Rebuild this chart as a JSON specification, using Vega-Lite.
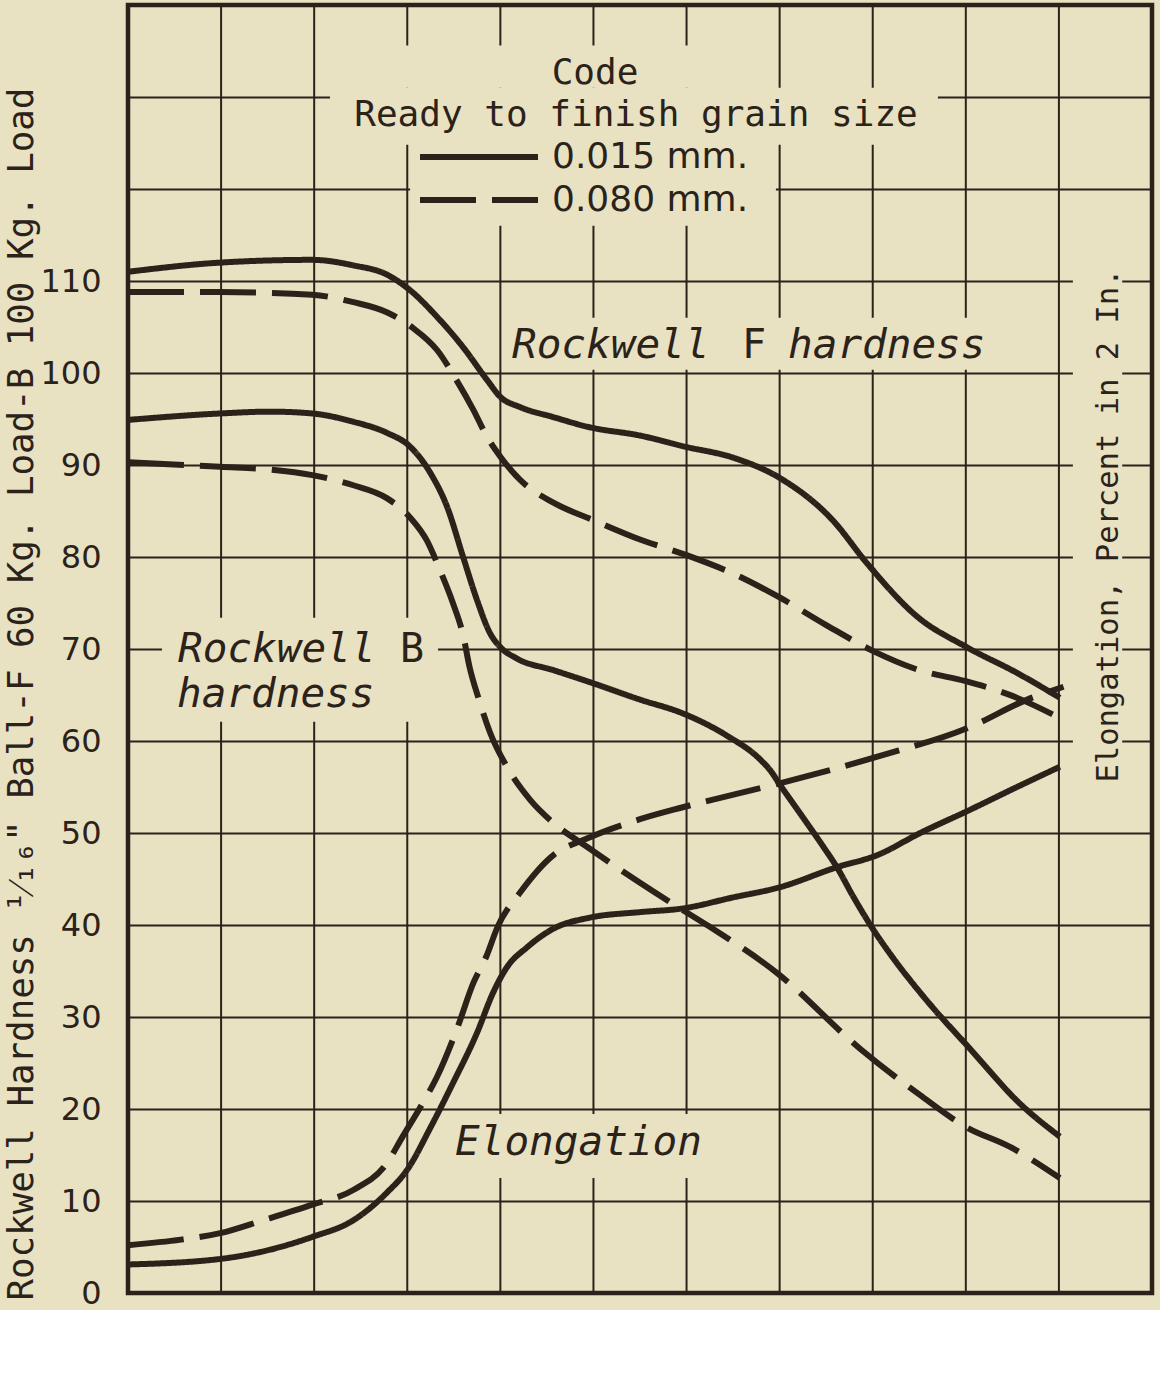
{
  "$schema": "https://vega.github.io/schema/vega-lite/v6.json",
  "width": 1024,
  "height": 1288,
  "autosize": {"type": "none"},
  "padding": {"left": 128, "top": 5, "right": 8, "bottom": 17},
  "background": "#e8e1c2",
  "config": {
    "font": "DejaVu Sans",
    "view": {"stroke": "#2b221a", "strokeWidth": 4.5},
    "axis": {
      "gridColor": "#2b221a",
      "gridWidth": 2,
      "gridOpacity": 1,
      "domain": false,
      "ticks": false,
      "labelColor": "#2b221a",
      "titleColor": "#2b221a",
      "titleFontWeight": "normal",
      "titleFont": "DejaVu Sans Mono",
      "labelFont": "DejaVu Sans"
    },
    "legend": {
      "orient": "none",
      "legendX": 333,
      "legendY": 134,
      "direction": "vertical",
      "padding": 0,
      "symbolType": "M-5,0H5",
      "symbolSize": 557,
      "symbolStrokeWidth": 6,
      "symbolStrokeColor": "#2b221a",
      "symbolOffset": 0,
      "labelFont": "DejaVu Sans",
      "labelFontSize": 36,
      "labelColor": "#2b221a",
      "labelOffset": 55,
      "labelLimit": 0,
      "rowPadding": 7
    }
  },
  "datasets": {
    "columns": [
      {"x": 1}, {"x": 2}, {"x": 3}, {"x": 4}, {"x": 5},
      {"x": 6}, {"x": 7}, {"x": 8}, {"x": 9}, {"x": 10}
    ],
    "curves": [
      {"property": "Rockwell F", "grain": "0.015 mm.", "x": 0, "value": 111.0},
      {"property": "Rockwell F", "grain": "0.015 mm.", "x": 0.99, "value": 112.0},
      {"property": "Rockwell F", "grain": "0.015 mm.", "x": 1.98, "value": 112.3},
      {"property": "Rockwell F", "grain": "0.015 mm.", "x": 2.42, "value": 111.7},
      {"property": "Rockwell F", "grain": "0.015 mm.", "x": 2.78, "value": 110.7},
      {"property": "Rockwell F", "grain": "0.015 mm.", "x": 3.03, "value": 109.0},
      {"property": "Rockwell F", "grain": "0.015 mm.", "x": 3.32, "value": 106.1},
      {"property": "Rockwell F", "grain": "0.015 mm.", "x": 3.6, "value": 102.8},
      {"property": "Rockwell F", "grain": "0.015 mm.", "x": 3.86, "value": 99.2},
      {"property": "Rockwell F", "grain": "0.015 mm.", "x": 4.0, "value": 97.4},
      {"property": "Rockwell F", "grain": "0.015 mm.", "x": 4.21, "value": 96.3},
      {"property": "Rockwell F", "grain": "0.015 mm.", "x": 4.57, "value": 95.2},
      {"property": "Rockwell F", "grain": "0.015 mm.", "x": 4.96, "value": 94.1},
      {"property": "Rockwell F", "grain": "0.015 mm.", "x": 5.5, "value": 93.2},
      {"property": "Rockwell F", "grain": "0.015 mm.", "x": 5.98, "value": 92.0},
      {"property": "Rockwell F", "grain": "0.015 mm.", "x": 6.5, "value": 90.8},
      {"property": "Rockwell F", "grain": "0.015 mm.", "x": 7.0, "value": 88.6},
      {"property": "Rockwell F", "grain": "0.015 mm.", "x": 7.57, "value": 84.0},
      {"property": "Rockwell F", "grain": "0.015 mm.", "x": 7.94, "value": 79.3},
      {"property": "Rockwell F", "grain": "0.015 mm.", "x": 8.48, "value": 73.5},
      {"property": "Rockwell F", "grain": "0.015 mm.", "x": 9.01, "value": 70.2},
      {"property": "Rockwell F", "grain": "0.015 mm.", "x": 9.55, "value": 67.4},
      {"property": "Rockwell F", "grain": "0.015 mm.", "x": 10.01, "value": 64.7},

      {"property": "Rockwell F", "grain": "0.080 mm.", "x": 0, "value": 108.8},
      {"property": "Rockwell F", "grain": "0.080 mm.", "x": 0.99, "value": 108.8},
      {"property": "Rockwell F", "grain": "0.080 mm.", "x": 1.98, "value": 108.5},
      {"property": "Rockwell F", "grain": "0.080 mm.", "x": 2.42, "value": 107.7},
      {"property": "Rockwell F", "grain": "0.080 mm.", "x": 2.78, "value": 106.6},
      {"property": "Rockwell F", "grain": "0.080 mm.", "x": 3.06, "value": 104.9},
      {"property": "Rockwell F", "grain": "0.080 mm.", "x": 3.32, "value": 102.5},
      {"property": "Rockwell F", "grain": "0.080 mm.", "x": 3.53, "value": 99.2},
      {"property": "Rockwell F", "grain": "0.080 mm.", "x": 3.71, "value": 96.0},
      {"property": "Rockwell F", "grain": "0.080 mm.", "x": 3.86, "value": 93.0},
      {"property": "Rockwell F", "grain": "0.080 mm.", "x": 4.0, "value": 90.9},
      {"property": "Rockwell F", "grain": "0.080 mm.", "x": 4.21, "value": 88.4},
      {"property": "Rockwell F", "grain": "0.080 mm.", "x": 4.57, "value": 85.9},
      {"property": "Rockwell F", "grain": "0.080 mm.", "x": 5.0, "value": 84.0},
      {"property": "Rockwell F", "grain": "0.080 mm.", "x": 5.5, "value": 81.9},
      {"property": "Rockwell F", "grain": "0.080 mm.", "x": 6.0, "value": 80.2},
      {"property": "Rockwell F", "grain": "0.080 mm.", "x": 6.5, "value": 78.2},
      {"property": "Rockwell F", "grain": "0.080 mm.", "x": 7.0, "value": 75.6},
      {"property": "Rockwell F", "grain": "0.080 mm.", "x": 7.5, "value": 72.6},
      {"property": "Rockwell F", "grain": "0.080 mm.", "x": 8.0, "value": 69.8},
      {"property": "Rockwell F", "grain": "0.080 mm.", "x": 8.5, "value": 67.7},
      {"property": "Rockwell F", "grain": "0.080 mm.", "x": 9.0, "value": 66.5},
      {"property": "Rockwell F", "grain": "0.080 mm.", "x": 9.5, "value": 64.9},
      {"property": "Rockwell F", "grain": "0.080 mm.", "x": 10.01, "value": 62.5},

      {"property": "Rockwell B", "grain": "0.015 mm.", "x": 0, "value": 94.9},
      {"property": "Rockwell B", "grain": "0.015 mm.", "x": 0.99, "value": 95.6},
      {"property": "Rockwell B", "grain": "0.015 mm.", "x": 1.53, "value": 95.8},
      {"property": "Rockwell B", "grain": "0.015 mm.", "x": 1.98, "value": 95.6},
      {"property": "Rockwell B", "grain": "0.015 mm.", "x": 2.42, "value": 94.7},
      {"property": "Rockwell B", "grain": "0.015 mm.", "x": 2.78, "value": 93.5},
      {"property": "Rockwell B", "grain": "0.015 mm.", "x": 3.03, "value": 92.0},
      {"property": "Rockwell B", "grain": "0.015 mm.", "x": 3.25, "value": 89.1},
      {"property": "Rockwell B", "grain": "0.015 mm.", "x": 3.43, "value": 85.4},
      {"property": "Rockwell B", "grain": "0.015 mm.", "x": 3.6, "value": 80.0},
      {"property": "Rockwell B", "grain": "0.015 mm.", "x": 3.75, "value": 75.3},
      {"property": "Rockwell B", "grain": "0.015 mm.", "x": 3.89, "value": 71.7},
      {"property": "Rockwell B", "grain": "0.015 mm.", "x": 4.0, "value": 70.2},
      {"property": "Rockwell B", "grain": "0.015 mm.", "x": 4.17, "value": 69.0},
      {"property": "Rockwell B", "grain": "0.015 mm.", "x": 4.57, "value": 67.7},
      {"property": "Rockwell B", "grain": "0.015 mm.", "x": 4.96, "value": 66.4},
      {"property": "Rockwell B", "grain": "0.015 mm.", "x": 5.5, "value": 64.5},
      {"property": "Rockwell B", "grain": "0.015 mm.", "x": 5.96, "value": 63.0},
      {"property": "Rockwell B", "grain": "0.015 mm.", "x": 6.43, "value": 60.6},
      {"property": "Rockwell B", "grain": "0.015 mm.", "x": 6.79, "value": 58.0},
      {"property": "Rockwell B", "grain": "0.015 mm.", "x": 6.9, "value": 56.8},
      {"property": "Rockwell B", "grain": "0.015 mm.", "x": 7.0, "value": 55.3},
      {"property": "Rockwell B", "grain": "0.015 mm.", "x": 7.25, "value": 51.7},
      {"property": "Rockwell B", "grain": "0.015 mm.", "x": 7.47, "value": 48.5},
      {"property": "Rockwell B", "grain": "0.015 mm.", "x": 7.62, "value": 46.2},
      {"property": "Rockwell B", "grain": "0.015 mm.", "x": 7.79, "value": 43.1},
      {"property": "Rockwell B", "grain": "0.015 mm.", "x": 8.0, "value": 39.6},
      {"property": "Rockwell B", "grain": "0.015 mm.", "x": 8.22, "value": 36.4},
      {"property": "Rockwell B", "grain": "0.015 mm.", "x": 8.58, "value": 31.8},
      {"property": "Rockwell B", "grain": "0.015 mm.", "x": 9.04, "value": 26.6},
      {"property": "Rockwell B", "grain": "0.015 mm.", "x": 9.58, "value": 20.6},
      {"property": "Rockwell B", "grain": "0.015 mm.", "x": 10.01, "value": 17.0},

      {"property": "Rockwell B", "grain": "0.080 mm.", "x": 0, "value": 90.3},
      {"property": "Rockwell B", "grain": "0.080 mm.", "x": 0.99, "value": 89.8},
      {"property": "Rockwell B", "grain": "0.080 mm.", "x": 1.53, "value": 89.5},
      {"property": "Rockwell B", "grain": "0.080 mm.", "x": 1.98, "value": 88.9},
      {"property": "Rockwell B", "grain": "0.080 mm.", "x": 2.42, "value": 87.8},
      {"property": "Rockwell B", "grain": "0.080 mm.", "x": 2.78, "value": 86.4},
      {"property": "Rockwell B", "grain": "0.080 mm.", "x": 3.03, "value": 84.3},
      {"property": "Rockwell B", "grain": "0.080 mm.", "x": 3.21, "value": 81.8},
      {"property": "Rockwell B", "grain": "0.080 mm.", "x": 3.35, "value": 78.6},
      {"property": "Rockwell B", "grain": "0.080 mm.", "x": 3.49, "value": 75.0},
      {"property": "Rockwell B", "grain": "0.080 mm.", "x": 3.6, "value": 71.5},
      {"property": "Rockwell B", "grain": "0.080 mm.", "x": 3.67, "value": 68.0},
      {"property": "Rockwell B", "grain": "0.080 mm.", "x": 3.77, "value": 64.5},
      {"property": "Rockwell B", "grain": "0.080 mm.", "x": 3.89, "value": 60.9},
      {"property": "Rockwell B", "grain": "0.080 mm.", "x": 4.07, "value": 57.2},
      {"property": "Rockwell B", "grain": "0.080 mm.", "x": 4.32, "value": 53.6},
      {"property": "Rockwell B", "grain": "0.080 mm.", "x": 4.57, "value": 51.1},
      {"property": "Rockwell B", "grain": "0.080 mm.", "x": 4.93, "value": 48.5},
      {"property": "Rockwell B", "grain": "0.080 mm.", "x": 5.5, "value": 44.6},
      {"property": "Rockwell B", "grain": "0.080 mm.", "x": 5.9, "value": 42.0},
      {"property": "Rockwell B", "grain": "0.080 mm.", "x": 6.25, "value": 39.8},
      {"property": "Rockwell B", "grain": "0.080 mm.", "x": 6.97, "value": 34.8},
      {"property": "Rockwell B", "grain": "0.080 mm.", "x": 7.87, "value": 26.5},
      {"property": "Rockwell B", "grain": "0.080 mm.", "x": 8.51, "value": 21.5},
      {"property": "Rockwell B", "grain": "0.080 mm.", "x": 9.01, "value": 18.0},
      {"property": "Rockwell B", "grain": "0.080 mm.", "x": 9.47, "value": 15.9},
      {"property": "Rockwell B", "grain": "0.080 mm.", "x": 10.01, "value": 12.5},

      {"property": "Elongation", "grain": "0.015 mm.", "x": 0, "value": 3.1},
      {"property": "Elongation", "grain": "0.015 mm.", "x": 0.99, "value": 3.7},
      {"property": "Elongation", "grain": "0.015 mm.", "x": 1.98, "value": 6.1},
      {"property": "Elongation", "grain": "0.015 mm.", "x": 2.42, "value": 7.9},
      {"property": "Elongation", "grain": "0.015 mm.", "x": 2.78, "value": 10.9},
      {"property": "Elongation", "grain": "0.015 mm.", "x": 3.0, "value": 13.4},
      {"property": "Elongation", "grain": "0.015 mm.", "x": 3.25, "value": 18.0},
      {"property": "Elongation", "grain": "0.015 mm.", "x": 3.49, "value": 22.8},
      {"property": "Elongation", "grain": "0.015 mm.", "x": 3.75, "value": 28.3},
      {"property": "Elongation", "grain": "0.015 mm.", "x": 3.92, "value": 32.6},
      {"property": "Elongation", "grain": "0.015 mm.", "x": 4.07, "value": 35.4},
      {"property": "Elongation", "grain": "0.015 mm.", "x": 4.29, "value": 37.6},
      {"property": "Elongation", "grain": "0.015 mm.", "x": 4.57, "value": 39.6},
      {"property": "Elongation", "grain": "0.015 mm.", "x": 4.96, "value": 40.8},
      {"property": "Elongation", "grain": "0.015 mm.", "x": 5.5, "value": 41.4},
      {"property": "Elongation", "grain": "0.015 mm.", "x": 5.96, "value": 41.8},
      {"property": "Elongation", "grain": "0.015 mm.", "x": 6.5, "value": 43.0},
      {"property": "Elongation", "grain": "0.015 mm.", "x": 7.0, "value": 44.1},
      {"property": "Elongation", "grain": "0.015 mm.", "x": 7.62, "value": 46.3},
      {"property": "Elongation", "grain": "0.015 mm.", "x": 8.05, "value": 47.6},
      {"property": "Elongation", "grain": "0.015 mm.", "x": 8.51, "value": 50.0},
      {"property": "Elongation", "grain": "0.015 mm.", "x": 9.04, "value": 52.5},
      {"property": "Elongation", "grain": "0.015 mm.", "x": 9.55, "value": 55.0},
      {"property": "Elongation", "grain": "0.015 mm.", "x": 10.01, "value": 57.2},

      {"property": "Elongation", "grain": "0.080 mm.", "x": 0, "value": 5.2},
      {"property": "Elongation", "grain": "0.080 mm.", "x": 0.57, "value": 5.8},
      {"property": "Elongation", "grain": "0.080 mm.", "x": 0.99, "value": 6.5},
      {"property": "Elongation", "grain": "0.080 mm.", "x": 1.45, "value": 7.9},
      {"property": "Elongation", "grain": "0.080 mm.", "x": 1.98, "value": 9.6},
      {"property": "Elongation", "grain": "0.080 mm.", "x": 2.42, "value": 11.2},
      {"property": "Elongation", "grain": "0.080 mm.", "x": 2.78, "value": 14.1},
      {"property": "Elongation", "grain": "0.080 mm.", "x": 2.95, "value": 17.0},
      {"property": "Elongation", "grain": "0.080 mm.", "x": 3.14, "value": 20.2},
      {"property": "Elongation", "grain": "0.080 mm.", "x": 3.32, "value": 23.5},
      {"property": "Elongation", "grain": "0.080 mm.", "x": 3.53, "value": 28.6},
      {"property": "Elongation", "grain": "0.080 mm.", "x": 3.71, "value": 33.7},
      {"property": "Elongation", "grain": "0.080 mm.", "x": 3.85, "value": 36.6},
      {"property": "Elongation", "grain": "0.080 mm.", "x": 3.97, "value": 39.8},
      {"property": "Elongation", "grain": "0.080 mm.", "x": 4.21, "value": 43.5},
      {"property": "Elongation", "grain": "0.080 mm.", "x": 4.57, "value": 47.6},
      {"property": "Elongation", "grain": "0.080 mm.", "x": 4.93, "value": 49.4},
      {"property": "Elongation", "grain": "0.080 mm.", "x": 5.5, "value": 51.5},
      {"property": "Elongation", "grain": "0.080 mm.", "x": 5.96, "value": 52.8},
      {"property": "Elongation", "grain": "0.080 mm.", "x": 7.0, "value": 55.4},
      {"property": "Elongation", "grain": "0.080 mm.", "x": 8.05, "value": 58.3},
      {"property": "Elongation", "grain": "0.080 mm.", "x": 9.04, "value": 61.5},
      {"property": "Elongation", "grain": "0.080 mm.", "x": 9.66, "value": 64.5},
      {"property": "Elongation", "grain": "0.080 mm.", "x": 10.05, "value": 65.9}
    ],
    "clearings": [
      {"x0": 2.17, "x1": 8.70, "y0": 124.8, "y1": 131.0},
      {"x0": 3.03, "x1": 6.96, "y0": 116.0, "y1": 125.0},
      {"x0": 2.95, "x1": 6.15, "y0": 131.0, "y1": 135.6},
      {"x0": 4.45, "x1": 9.37, "y0": 100.35, "y1": 106.0},
      {"x0": 0.365, "x1": 3.33, "y0": 62.1, "y1": 73.4},
      {"x0": 3.405, "x1": 6.36, "y0": 12.5, "y1": 19.45},
      {"x0": 10.15, "x1": 10.68, "y0": 54.7, "y1": 112.1}
    ],
    "headings": [
      {"text": "Code", "x": 5.017, "y": 131.4},
      {"text": "Ready to finish grain size", "x": 5.457, "y": 126.85}
    ],
    "curveNames": [
      {"text": "Rockwell", "x": 4.125, "y": 101.63},
      {"text": "hardness", "x": 7.09, "y": 101.63},
      {"text": "Rockwell", "x": 0.537, "y": 68.59},
      {"text": "hardness", "x": 0.526, "y": 63.7},
      {"text": "Elongation", "x": 3.513, "y": 15.0}
    ],
    "scaleLetters": [
      {"text": "F", "x": 6.596, "y": 101.63},
      {"text": "B", "x": 2.922, "y": 68.59}
    ]
  },
  "layer": [
    {
      "data": {"name": "columns"},
      "mark": {"type": "rule", "color": "#2b221a", "strokeWidth": 2},
      "encoding": {
        "x": {"field": "x", "type": "quantitative", "scale": {"domain": [0, 11], "nice": false, "zero": false}, "axis": null}
      }
    },
    {
      "data": {"name": "clearings"},
      "mark": {"type": "rect", "fill": "#e8e1c2", "stroke": null},
      "encoding": {
        "x": {"field": "x0", "type": "quantitative", "axis": null},
        "x2": {"field": "x1"},
        "y": {"field": "y0", "type": "quantitative", "scale": {"domain": [0, 140], "nice": false, "zero": false}, "axis": null},
        "y2": {"field": "y1"}
      }
    },
    {
      "data": {"name": "curves"},
      "transform": [{"filter": "datum.property !== 'Elongation'"}],
      "mark": {"type": "line", "strokeWidth": 6, "color": "#2b221a", "interpolate": "monotone"},
      "encoding": {
        "x": {"field": "x", "type": "quantitative", "axis": null},
        "y": {
          "field": "value", "type": "quantitative",
          "axis": {
            "orient": "left",
            "grid": true,
            "values": [0, 10, 20, 30, 40, 50, 60, 70, 80, 90, 100, 110, 120, 130, 140],
            "labelExpr": "datum.value <= 110 ? datum.label : ''",
            "labelFontSize": 32,
            "labelPadding": 27,
            "title": "Rockwell Hardness ¹⁄₁₆\" Ball-F 60 Kg. Load-B 100 Kg. Load",
            "titleFontSize": 35.8,
            "titleAngle": 270,
            "titleAlign": "left",
            "titleBaseline": "alphabetic",
            "titleX": -96,
            "titleY": 1295
          }
        },
        "strokeDash": {
          "field": "grain", "type": "nominal",
          "scale": {"domain": ["0.015 mm.", "0.080 mm."], "range": [[1, 0], [56, 16]]},
          "legend": {"title": null}
        },
        "detail": {"field": "property"}
      }
    },
    {
      "data": {"name": "curves"},
      "transform": [{"filter": "datum.property === 'Elongation'"}],
      "mark": {"type": "line", "strokeWidth": 6, "color": "#2b221a", "interpolate": "monotone"},
      "encoding": {
        "x": {"field": "x", "type": "quantitative", "axis": null},
        "y": {
          "field": "value", "type": "quantitative",
          "axis": {
            "orient": "right",
            "grid": false,
            "labels": false,
            "zindex": 1,
            "title": "Elongation, Percent in 2 In.",
            "titleFontSize": 30.5,
            "titleAngle": 270,
            "titleAlign": "center",
            "titleBaseline": "alphabetic",
            "titleX": -35,
            "titleY": 520
          }
        },
        "strokeDash": {"field": "grain", "type": "nominal"}
      }
    },
    {
      "data": {"name": "headings"},
      "mark": {"type": "text", "font": "DejaVu Sans Mono", "fontSize": 36, "align": "center", "baseline": "alphabetic", "color": "#2b221a"},
      "encoding": {
        "x": {"field": "x", "type": "quantitative", "axis": null},
        "y": {"field": "y", "type": "quantitative", "axis": null},
        "text": {"field": "text"}
      }
    },
    {
      "data": {"name": "curveNames"},
      "mark": {"type": "text", "font": "DejaVu Sans Mono", "fontSize": 41, "fontStyle": "italic", "align": "left", "baseline": "alphabetic", "color": "#2b221a"},
      "encoding": {
        "x": {"field": "x", "type": "quantitative", "axis": null},
        "y": {"field": "y", "type": "quantitative", "axis": null},
        "text": {"field": "text"}
      }
    },
    {
      "data": {"name": "scaleLetters"},
      "mark": {"type": "text", "font": "DejaVu Sans Mono", "fontSize": 40, "align": "left", "baseline": "alphabetic", "color": "#2b221a"},
      "encoding": {
        "x": {"field": "x", "type": "quantitative", "axis": null},
        "y": {"field": "y", "type": "quantitative", "axis": null},
        "text": {"field": "text"}
      }
    }
  ],
  "resolve": {"axis": {"y": "independent"}}
}
